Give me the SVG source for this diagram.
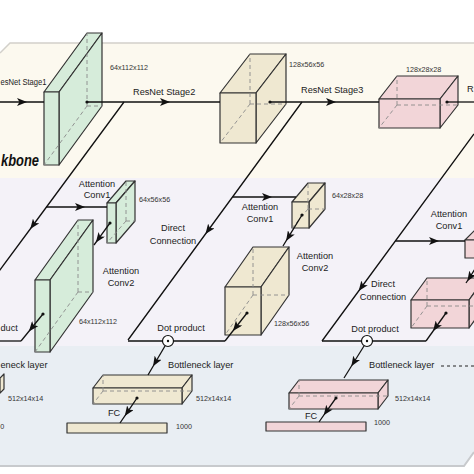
<svg xmlns="http://www.w3.org/2000/svg" width="474" height="474" viewBox="0 0 474 474">
<style>
.t{font-family:"Liberation Sans",Arial,sans-serif;font-size:9.2px;fill:#222}
.d{font-family:"Liberation Sans",Arial,sans-serif;font-size:7.2px;fill:#333}
.m{text-anchor:middle}
.e{text-anchor:end}
.bb{font-family:"Liberation Sans",Arial,sans-serif;font-size:17px;font-weight:bold;font-style:italic;fill:#111}
.f{stroke:#333;stroke-width:1.2;stroke-linejoin:round}
.g{fill:#d6ecda}
.c{fill:#efe8d1}
.p{fill:#f2d5d8}
.h{fill:none;stroke:#8a8a8a;stroke-width:0.9;stroke-dasharray:4 3}
.ln{fill:none;stroke:#111;stroke-width:1.3}
.ar{fill:none;stroke:#111;stroke-width:1.3;marker-mid:url(#ah)}
.dot{fill:#111}
</style>
<defs>
<marker id="ah" viewBox="0 0 10 8" refX="5" refY="4" markerWidth="10" markerHeight="8" markerUnits="userSpaceOnUse" orient="auto">
<path d="M0,0 L10,4 L0,8 L2.5,4 Z" fill="#111"/>
</marker>
</defs>
<rect width="474" height="474" fill="#ffffff"/>
<g id="panels">
<path d="M10,43 L474,43 L474,178 L0,178 L0,53 Z" fill="#fcf9ef"/>
<rect x="0" y="178" width="474" height="168" fill="#f4f2f8"/>
<path d="M0,346 L474,346 L474,452 L464,466 L0,466 Z" fill="#e9eef3"/>
<path d="M0,53 L10,43 L474,43" fill="none" stroke="#d2d0ca" stroke-width="1.5"/>
<path d="M0,466 L464,466 L474,452" fill="none" stroke="#c8cacd" stroke-width="2"/>
</g>
<g id="backbone-label"><text class="bb" x="1" y="166" textLength="38" lengthAdjust="spacingAndGlyphs">kbone</text></g>
<g id="stage1">
<polygon class="f g" points="44,92 87,33 102,33 59,92"/>
<polygon class="f g" points="59,92 102,33 102,106 59,165"/>
<rect class="f g" x="44" y="92" width="15" height="73"/>
<path class="h" d="M87,106 L87,33 M87,106 L102,106 M87,106 L44,165"/>
<text class="d" x="110" y="70">64x112x112</text>
</g>
<g id="stage2">
<polygon class="f c" points="220,93 250,54 286,54 256,93"/>
<polygon class="f c" points="256,93 286,54 286,104 256,143"/>
<rect class="f c" x="220" y="93" width="36" height="50"/>
<path class="h" d="M250,104 L250,54 M250,104 L286,104 M250,104 L220,143"/>
<text class="d" x="289" y="67">128x56x56</text>
</g>
<g id="stage3">
<polygon class="f p" points="379,99 397,76 458,76 440,99"/>
<polygon class="f p" points="440,99 458,76 458,105 440,128"/>
<rect class="f p" x="379" y="99" width="61" height="29"/>
<path class="h" d="M397,105 L397,76 M397,105 L458,105 M397,105 L379,128"/>
<text class="d" x="406" y="72">128x28x28</text>
</g>
<g id="att1-conv1">
<polygon class="f g" points="107,203 126,181 135,181 116,203"/>
<polygon class="f g" points="116,203 135,181 135,221 116,243"/>
<rect class="f g" x="107" y="203" width="9" height="40"/>
<path class="h" d="M126,221 L126,181 M126,221 L135,221 M126,221 L107,243"/>
<text class="t m" x="97" y="187">Attention</text>
<text class="t m" x="97" y="198">Conv1</text>
<text class="d" x="139" y="202">64x56x56</text>
</g>
<g id="att1-conv2">
<polygon class="f g" points="35,280 78,220 93,220 50,280"/>
<polygon class="f g" points="50,280 93,220 93,292 50,352"/>
<rect class="f g" x="35" y="280" width="15" height="72"/>
<path class="h" d="M78,292 L78,220 M78,292 L93,292 M78,292 L35,352"/>
<text class="t m" x="121" y="274">Attention</text>
<text class="t m" x="121" y="286">Conv2</text>
<text class="d" x="79" y="324">64x112x112</text>
</g>
<g id="att2-conv1">
<polygon class="f c" points="292,202 308,183 325,183 309,202"/>
<polygon class="f c" points="309,202 325,183 325,209 309,228"/>
<rect class="f c" x="292" y="202" width="17" height="26"/>
<path class="h" d="M308,209 L308,183 M308,209 L325,209 M308,209 L292,228"/>
<text class="t m" x="260" y="210">Attention</text>
<text class="t m" x="260" y="222">Conv1</text>
<text class="d" x="332" y="198">64x28x28</text>
</g>
<g id="att2-conv2">
<polygon class="f c" points="225,287 253,247 289,247 261,287"/>
<polygon class="f c" points="261,287 289,247 289,295 261,335"/>
<rect class="f c" x="225" y="287" width="36" height="48"/>
<path class="h" d="M253,295 L253,247 M253,295 L289,295 M253,295 L225,335"/>
<text class="t m" x="315" y="259">Attention</text>
<text class="t m" x="315" y="271">Conv2</text>
<text class="d" x="274" y="326">128x56x56</text>
</g>
<g id="att3-conv1">
<polygon class="f p" points="465,240 475,230 505,230 495,240"/>
<rect class="f p" x="465" y="240" width="30" height="18"/>
<text class="t m" x="449" y="217">Attention</text>
<text class="t m" x="449" y="229">Conv1</text>
</g>
<g id="att3-conv2">
<polygon class="f p" points="411,300 427,278 485,278 469,300"/>
<polygon class="f p" points="469,300 485,278 485,306 469,328"/>
<rect class="f p" x="411" y="300" width="58" height="28"/>
<path class="h" d="M427,306 L427,278 M427,306 L485,306 M427,306 L411,328"/>
</g>
<g id="direct-labels">
<text class="t m" x="173" y="231">Direct</text>
<text class="t m" x="173" y="244">Connection</text>
<text class="t m" x="383" y="287">Direct</text>
<text class="t m" x="383" y="300">Connection</text>
</g>
<g id="bottleneck1">
<polygon class="f c" points="0,378 4,374 4,389 0,393"/>
<text class="t" x="0.5" y="368">eneck layer</text>
<text class="d" x="8" y="401">512x14x14</text>
<text class="d" x="0.3" y="429">0</text>
</g>
<g id="bottleneck2">
<polygon class="f c" points="93,388 103,375 192,375 182,388"/>
<polygon class="f c" points="182,388 192,375 192,391 182,404"/>
<rect class="f c" x="93" y="388" width="89" height="16"/>
<path class="h" d="M103,391 L103,375 M103,391 L192,391 M103,391 L93,404"/>
<text class="t" x="168" y="368">Bottleneck layer</text>
<text class="d" x="196" y="401">512x14x14</text>
</g>
<g id="fc2">
<rect class="f c" x="67" y="423" width="100" height="10"/>
<text class="t m" x="114" y="416">FC</text>
<text class="d" x="176" y="429">1000</text>
</g>
<g id="bottleneck3">
<polygon class="f p" points="289,393 299,380 388,380 378,393"/>
<polygon class="f p" points="378,393 388,380 388,396 378,409"/>
<rect class="f p" x="289" y="393" width="89" height="16"/>
<path class="h" d="M299,396 L299,380 M299,396 L388,396 M299,396 L289,409"/>
<text class="t" x="369" y="368">Bottleneck layer</text>
<text class="d" x="395" y="401">512x14x14</text>
</g>
<g id="fc3">
<rect class="f p" x="266" y="422" width="100" height="9"/>
<text class="t m" x="311" y="419">FC</text>
<text class="d" x="374" y="425">1000</text>
</g>
<g id="connectors">
<path class="ar" d="M0,102 L22,102 L44,102"/>
<path class="ar" d="M87,102 L165,102 L220,102"/>
<path class="ar" d="M270,102 L331,102 L379,102"/>
<path class="ln" d="M447,102 L474,102"/>
<path class="ar" d="M124,102 L33.2,225 L-20,297"/>
<path class="ar" d="M46,207 L80,207 L107,207"/>
<path class="ar" d="M110,223 L98.8,238.4 L94,245"/>
<path class="ar" d="M43,314 L32,327.5 L21,341"/>
<path class="ln" d="M0,341 L21,341"/>
<path class="ar" d="M302,102 L208.4,230 L128,340"/>
<path class="ar" d="M232.5,197 L267,197 L296,197"/>
<path class="ar" d="M302,215 L288.7,236.7 L283,246"/>
<path class="ar" d="M247,313 L236,327 L225,341"/>
<path class="ln" d="M128,341 L225,341"/>
<path class="ar" d="M165,346 L155.6,362 L148,375"/>
<path class="ar" d="M137,398 L127.6,411.8 L120,423"/>
<path class="ar" d="M474,134 L361.6,287 L322,341"/>
<path class="ar" d="M395.4,241 L434,241 L465,241"/>
<path class="ar" d="M478,264 L470,277 L466,283"/>
<path class="ar" d="M446,313 L436,327 L426,341"/>
<path class="ln" d="M322,341 L426,341"/>
<path class="ar" d="M364,346 L354,362 L344,378"/>
<path class="ar" d="M336,398 L326.6,411.2 L319,422"/>
<path d="M441,366 L474,366" fill="none" stroke="#222" stroke-width="1" stroke-dasharray="3 3"/>
<circle cx="168" cy="341" r="5.5" fill="#fff" stroke="#111" stroke-width="1.2"/>
<circle cx="168" cy="341" r="1.2" class="dot"/>
<circle cx="367" cy="341" r="5.5" fill="#fff" stroke="#111" stroke-width="1.2"/>
<circle cx="367" cy="341" r="1.2" class="dot"/>
<circle cx="87" cy="102" r="1.6" class="dot"/>
<circle cx="270" cy="102" r="1.6" class="dot"/>
<circle cx="447" cy="102" r="1.6" class="dot"/>
<circle cx="110" cy="223" r="1.6" class="dot"/>
<circle cx="43" cy="314" r="1.6" class="dot"/>
<circle cx="302" cy="215" r="1.6" class="dot"/>
<circle cx="247" cy="313" r="1.6" class="dot"/>
<circle cx="446" cy="313" r="1.6" class="dot"/>
<circle cx="137" cy="398" r="1.6" class="dot"/>
<circle cx="336" cy="398" r="1.6" class="dot"/>
</g>
<g id="stage-labels">
<text class="t" x="0.5" y="85" textLength="46" lengthAdjust="spacingAndGlyphs">esNet Stage1</text>
<text class="t" x="133" y="95">ResNet Stage2</text>
<text class="t" x="301" y="93">ResNet Stage3</text>
<text class="t" x="467" y="92">R</text>
<text class="t" x="0.5" y="331">duct</text>
<text class="t m" x="181" y="331">Dot product</text>
<text class="t m" x="375" y="332">Dot product</text>
</g>
</svg>
